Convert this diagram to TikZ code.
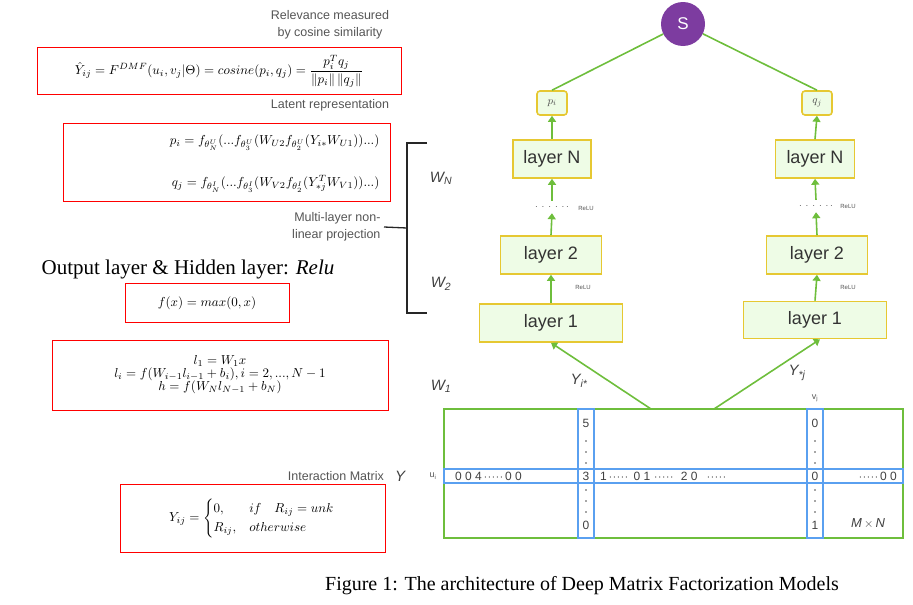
\documentclass[tikz,border=0pt]{standalone}
\usepackage{amsmath}
\usepackage{fontspec}
\newfontfamily\hsf{Liberation Sans}
\setmainfont{Liberation Serif}
\usetikzlibrary{arrows.meta}
\definecolor{gr}{RGB}{110,190,60}
\definecolor{yl}{RGB}{230,200,50}
\definecolor{lf}{RGB}{238,252,230}
\definecolor{bl}{RGB}{90,160,240}
\definecolor{pu}{RGB}{125,60,160}
\definecolor{tg}{RGB}{85,85,85}
\tikzset{
 layer/.style={draw=yl,line width=1.6pt,fill=lf,font=\hsf\fontsize{18}{20}\selectfont,text=black!80,inner sep=0pt},
 small/.style={draw=yl,line width=1.6pt,fill=lf,rounded corners=3pt,minimum width=30pt,minimum height=24pt,font=\hsf\itshape\fontsize{11}{12}\selectfont,text=black!70},
 ar/.style={draw=gr,line width=1.6pt,-{Triangle[length=6pt,width=8pt]}},
 gl/.style={font=\hsf\fontsize{12.5}{17}\selectfont,text=tg,align=center},
 rb/.style={draw=red,line width=1pt},
 relu/.style={font=\hsf\fontsize{6}{7}\selectfont,text=tg},
 ml/.style={scale=1.3},
 mx/.style={font=\hsf\fontsize{12}{14}\selectfont,text=black!75},
 dts/.style={inner sep=0,minimum height=12pt,minimum width=24pt,text=tg}
}
\begin{document}
\begin{tikzpicture}[x=1pt,y=-1pt]
\useasboundingbox (0,0) rectangle (913,605);
% network
\node[circle,fill=pu,minimum size=44pt,inner sep=0,text=white,font=\hsf\fontsize{17}{18}\selectfont] (S) at (683,24) {S};
\node[small] (p) at (552,103) {$p_i$};
\node[small] (q) at (817,103) {$q_j$};
\node[layer,minimum width=78pt,minimum height=38pt] (lNa) at (552,159) {layer N};
\node[layer,minimum width=79pt,minimum height=38pt] (lNb) at (815,159) {layer N};
\node[layer,minimum width=101pt,minimum height=38pt] (l2a) at (551,255) {layer 2};
\node[layer,minimum width=101pt,minimum height=38pt] (l2b) at (817,255) {layer 2};
\node[layer,minimum width=143pt,minimum height=38pt] (l1a) at (551,323) {layer 1};
\node[layer,minimum width=143pt,minimum height=37pt] (l1b) at (815,320) {layer 1};
\node[dts] (da) at (552,207) {$\cdot\,\cdot\,\cdot\,\cdot\,\cdot\,\cdot$};
\node[dts] (db) at (816,206) {$\cdot\,\cdot\,\cdot\,\cdot\,\cdot\,\cdot$};
\node[relu] at (586,208) {ReLU};
\node[relu] at (848,206) {ReLU};
\node[relu] at (583,287) {ReLU};
\node[relu] at (848,287) {ReLU};
\draw[gr,line width=1.6pt] (p.north) -- (S);
\draw[gr,line width=1.6pt] (q.north) -- (S);
\draw[ar] (lNa.north) -- (p.south);
\draw[ar] (lNb.north) -- (q.south);
\draw[ar] (da.north) -- (lNa.south);
\draw[ar] (db.north) -- (lNb.south);
\draw[ar] (l2a.north) -- (da.south);
\draw[ar] (l2b.north) -- (db.south);
\draw[ar] (l1a.north) -- (l2a.south);
\draw[ar] (l1b.north) -- (l2b.south);
% matrix
\node[draw=gr,line width=1.3pt,minimum width=459pt,minimum height=129pt,inner sep=0] (M) at (673.5,473.5) {};
\coordinate (ma) at (651,409);
\coordinate (mb) at (714,409);
\draw[ar] (ma) -- (l1a.south);
\draw[ar] (mb) -- ([xshift=5pt]l1b.south);
\node[font=\hsf\itshape\fontsize{15}{15}\selectfont,text=black!75] at (579,381) {Y\textsubscript{i*}};
\node[font=\hsf\itshape\fontsize{15}{15}\selectfont,text=black!75] at (797,373) {Y\textsubscript{*j}};
\draw[bl,line width=1.3pt] (578,409) rectangle (594,538);
\draw[bl,line width=1.3pt] (807,409) rectangle (823,538);
\draw[bl,line width=1.3pt] (444,469) rectangle (903,483);
\node[mx] at (586,423) {5};
\node[mx] at (586,525) {0};
\node[mx] at (815,423) {0};
\node[mx] at (815,525) {1};
\foreach \x in {586,815}{\foreach \y in {441,452,463,490,501,512}{\fill[black!70] (\x,\y) circle (0.9pt);}}
\node[mx,anchor=west,inner sep=0] at (455,476) {0 0 4\,$\cdot\!\cdot\!\cdot\!\cdot\!\cdot$\,0 0};
\node[mx] at (586,476) {3};
\node[mx,anchor=west,inner sep=0] at (600,476) {1\,$\cdot\!\cdot\!\cdot\!\cdot\!\cdot$\, 0 1\,\,$\cdot\!\cdot\!\cdot\!\cdot\!\cdot$\,\, 2 0\,\,\, $\cdot\!\cdot\!\cdot\!\cdot\!\cdot$};
\node[mx] at (815,476) {0};
\node[mx,anchor=east,inner sep=0] at (897,476) {$\cdot\!\cdot\!\cdot\!\cdot\!\cdot$\,0 0};
\node[font=\hsf\fontsize{9}{10}\selectfont,text=tg] at (433,476) {u\textsubscript{i}};
\node[font=\hsf\fontsize{9}{10}\selectfont,text=tg] at (815,398) {v\textsubscript{j}};
\node[font=\hsf\itshape\fontsize{13}{14}\selectfont,text=black!75] at (868,524) {M\,$\times$\,N};
% W labels and bracket
\node[font=\hsf\itshape\fontsize{15}{16}\selectfont,text=black!75] at (441,178) {W\textsubscript{N}};
\node[font=\hsf\itshape\fontsize{15}{16}\selectfont,text=black!75] at (441,284) {W\textsubscript{2}};
\node[font=\hsf\itshape\fontsize{15}{16}\selectfont,text=black!75] at (441,386) {W\textsubscript{1}};
\draw[black!85,line width=1.3pt] (427,143) -- (407,143) -- (407,313) -- (427,313);
\coordinate (bk) at (407,228);
\node[gl,anchor=east,align=right] (mlt) at (384,227) {Multi-layer non-\\linear projection};
\draw[black!85,line width=1.3pt] (mlt.east) -- (bk);
\node[gl,anchor=east,inner sep=0] at (384,476) {Interaction Matrix};
\node[font=\hsf\itshape\fontsize{15}{16}\selectfont,text=black!75] at (400,476) {Y};
% left formulas
\node[gl] at (330,25) {Relevance measured\\by cosine similarity};
\draw[rb] (37,47) rectangle (401,94);
\node[ml] at (219,71) {$\hat{Y}_{ij}=F^{DMF}(u_i,v_j|\Theta)=cosine(p_i,q_j)=\dfrac{p_i^Tq_j}{\|p_i\|\,\|q_j\|}$};
\node[gl] at (330,105) {Latent representation};
\draw[rb] (63,123) rectangle (390,201);
\node[ml,anchor=east] at (384,143) {$p_i=f_{\theta_N^U}(...f_{\theta_3^U}(W_{U2}f_{\theta_2^U}(Y_{i*}W_{U1}))...)$};
\node[ml,anchor=east] at (384,184) {$q_j=f_{\theta_N^I}(...f_{\theta_3^I}(W_{V2}f_{\theta_2^I}(Y_{*j}^TW_{V1}))...)$};
\node[font=\fontsize{21}{24}\selectfont] at (188,269) {Output layer \& Hidden layer: \textit{Relu}};
\draw[rb] (125,283) rectangle (289,322);
\node[ml] at (207,303) {$f(x)=max(0,x)$};
\draw[rb] (52,340) rectangle (388,410);
\node[ml,align=center] at (220,375) {$l_1=W_1x$\\[-2pt]$l_i=f(W_{i-1}l_{i-1}+b_i),i=2,...,N-1$\\[-2pt]$h=f(W_Nl_{N-1}+b_N)$};
\draw[rb] (120,484) rectangle (385,552);
\node[ml] at (252,518) {$Y_{ij}=\begin{cases}0, & if\quad R_{ij}=unk\\ R_{ij}, & otherwise\end{cases}$};
\node[font=\fontsize{20}{22}\selectfont] at (582,586) {Figure 1: The architecture of Deep Matrix Factorization Models};
\end{tikzpicture}
\end{document}
